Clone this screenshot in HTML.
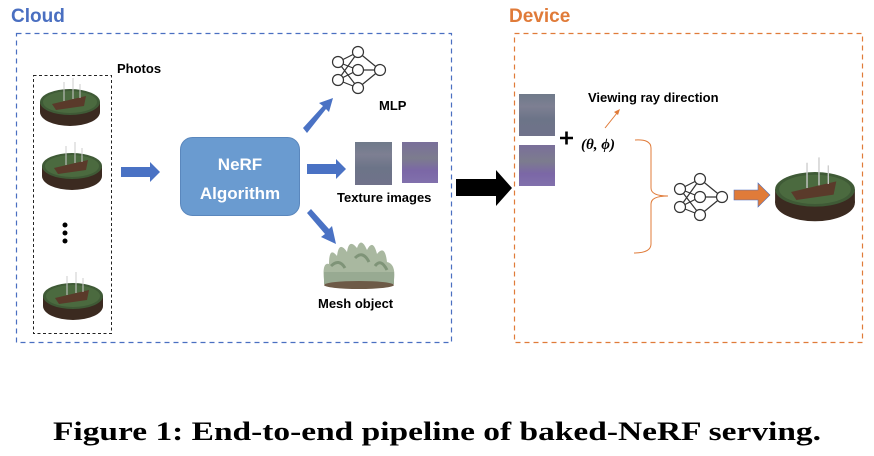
<!DOCTYPE html>
<html><head><meta charset="utf-8"><style>
html,body{margin:0;padding:0;background:#fff;}
svg{display:block;}
.s{font-family:"Liberation Sans",sans-serif;}
.r{font-family:"Liberation Serif",serif;}
</style></head><body>
<svg width="874" height="456" viewBox="0 0 874 456" xmlns="http://www.w3.org/2000/svg">
<defs>
<linearGradient id="tex1" x1="0" y1="0" x2="0" y2="1">
<stop offset="0" stop-color="#6f7a8a"/><stop offset="0.3" stop-color="#7d7f92"/><stop offset="0.6" stop-color="#6c7488"/><stop offset="1" stop-color="#70728a"/></linearGradient>
<linearGradient id="tex2" x1="0" y1="0" x2="0" y2="1">
<stop offset="0" stop-color="#7a6f9a"/><stop offset="0.4" stop-color="#7c7c8e"/><stop offset="0.7" stop-color="#7b67a6"/><stop offset="1" stop-color="#8170ac"/></linearGradient>
<g id="ship">
<ellipse cx="0" cy="8" rx="30" ry="14" fill="#3b2a20"/>
<rect x="-30" y="-2" width="60" height="10" fill="#3b2a20"/>
<ellipse cx="0" cy="-2" rx="30" ry="13" fill="#3f5a36"/>
<ellipse cx="0" cy="-2" rx="27" ry="11" fill="#4b6a3f"/>
<path d="M-18,0 L16,-8 L14,2 L-14,6 Z" fill="#5a3a2a"/>
<path d="M-6,-3 L-6,-22 M3,-5 L3,-26 M10,-6 L10,-20" stroke="#ccc" stroke-width="1"/>
</g>
<g id="mesh">
<path d="M-35,8 Q-37,-10 -30,-8 Q-30,-26 -22,-16 Q-20,-32 -12,-20 Q-10,-34 -2,-24 Q2,-36 8,-22 Q14,-34 18,-18 Q26,-28 28,-10 Q37,-8 35,8 Z" fill="#a9b8a0"/>
<path d="M-28,-6 Q-20,-14 -14,-4 M-4,-14 Q4,-22 10,-10 M16,-6 Q22,-14 28,-2" stroke="#7f9478" stroke-width="3" fill="none"/>
<path d="M-35,0 L35,0 L35,12 L-35,12 Z" fill="#98aa92"/>
<ellipse cx="0" cy="13" rx="35" ry="4" fill="#6d5a47"/>
</g>
<g id="nn" fill="#fff" stroke="#333" stroke-width="1.2">
<line x1="0" y1="-8" x2="20" y2="-18"/><line x1="0" y1="-8" x2="20" y2="0"/><line x1="0" y1="-8" x2="20" y2="18"/>
<line x1="0" y1="10" x2="20" y2="-18"/><line x1="0" y1="10" x2="20" y2="0"/><line x1="0" y1="10" x2="20" y2="18"/>
<line x1="20" y1="-18" x2="42" y2="0"/><line x1="20" y1="0" x2="42" y2="0"/><line x1="20" y1="18" x2="42" y2="0"/>
<circle cx="0" cy="-8" r="5.5"/><circle cx="0" cy="10" r="5.5"/>
<circle cx="20" cy="-18" r="5.5"/><circle cx="20" cy="0" r="5.5"/><circle cx="20" cy="18" r="5.5"/>
<circle cx="42" cy="0" r="5.5"/>
</g>
</defs>

<text class="s" x="11" y="22" font-size="19" font-weight="bold" fill="#4a6fc1">Cloud</text>
<text class="s" x="509" y="22" font-size="19" font-weight="bold" fill="#e07b39">Device</text>

<rect x="16.5" y="33.5" width="435" height="309" fill="none" stroke="#4a6fc1" stroke-width="1.2" stroke-dasharray="5,4"/>
<rect x="514.5" y="33.5" width="348" height="309" fill="none" stroke="#e07b39" stroke-width="1.2" stroke-dasharray="5,4"/>

<rect x="33.5" y="75.5" width="78" height="258" fill="none" stroke="#222" stroke-width="1" stroke-dasharray="3,2.5"/>
<text class="s" x="117" y="73" font-size="13" font-weight="bold" fill="#000">Photos</text>
<use href="#ship" x="70" y="104"/>
<use href="#ship" x="72" y="168"/>
<circle cx="65" cy="225" r="2.5" fill="#000"/><circle cx="65" cy="233" r="2.5" fill="#000"/><circle cx="65" cy="241" r="2.5" fill="#000"/>
<use href="#ship" x="73" y="298"/>

<path d="M121,167 L150,167 L150,162 L160,172 L150,182 L150,177 L121,177 Z" fill="#4a72c4"/>

<rect x="180.5" y="137.5" width="119" height="78" rx="12" fill="#6a9bd0" stroke="#5a87bd"/>
<text class="s" x="240" y="170" font-size="17" font-weight="bold" fill="#fff" text-anchor="middle">NeRF</text>
<text class="s" x="240" y="199" font-size="17" font-weight="bold" fill="#fff" text-anchor="middle">Algorithm</text>

<path d="M303,128 L323,106 L319,103 L333,98 L329,112 L326,109 L307,133 Z" fill="#4a72c4"/>
<path d="M307,164 L336,164 L336,159 L346,169 L336,179 L336,174 L307,174 Z" fill="#4a72c4"/>
<path d="M307,213 L311,209 L329,229 L332,226 L336,244 L321,237 L325,234 Z" fill="#4a72c4"/>

<use href="#nn" x="338" y="70"/>
<text class="s" x="379" y="110" font-size="13" font-weight="bold" fill="#000">MLP</text>

<rect x="355" y="142" width="37" height="43" fill="url(#tex1)"/>
<rect x="402" y="142" width="36" height="41" fill="url(#tex2)"/>
<text class="s" x="337" y="202" font-size="13" font-weight="bold" fill="#000">Texture images</text>

<use href="#mesh" x="359" y="272"/>
<text class="s" x="318" y="308" font-size="13" font-weight="bold" fill="#000">Mesh object</text>

<path d="M456,179 L496,179 L496,170 L512,188 L496,206 L496,196 L456,196 Z" fill="#000"/>

<rect x="519" y="94" width="36" height="42" fill="url(#tex1)"/>
<rect x="519" y="145" width="36" height="41" fill="url(#tex2)"/>
<path d="M560,138 L573,138 M566.5,131.5 L566.5,144.5" stroke="#000" stroke-width="2.6"/>
<text class="r" x="581" y="149" font-size="15" font-weight="bold" font-style="italic" fill="#000">(θ,  ϕ)</text>
<text class="s" x="588" y="102" font-size="13" font-weight="bold" fill="#000">Viewing ray direction</text>
<line x1="605" y1="128" x2="617" y2="113" stroke="#e07b39" stroke-width="1"/>
<path d="M620,109 L614,112 L618,115 Z" fill="#e07b39"/>

<path d="M635,140 Q651,139 651,148 L651,188 Q651,196 668,196 Q651,196 651,204 L651,244 Q651,253 634,253" fill="none" stroke="#e07b39" stroke-width="1"/>

<use href="#nn" x="680" y="197"/>
<path d="M734,190 L758,190 L758,183 L770,195 L758,207 L758,200 L734,200 Z" fill="#e07b39" stroke="#4a6fc1" stroke-width="0.6"/>
<use href="#ship" transform="translate(815,192) scale(1.33)"/>

<text class="r" x="437" y="440" font-size="26" font-weight="bold" fill="#000" text-anchor="middle" textLength="768" lengthAdjust="spacingAndGlyphs">Figure 1: End-to-end pipeline of baked-NeRF serving.</text>
</svg>
</body></html>
